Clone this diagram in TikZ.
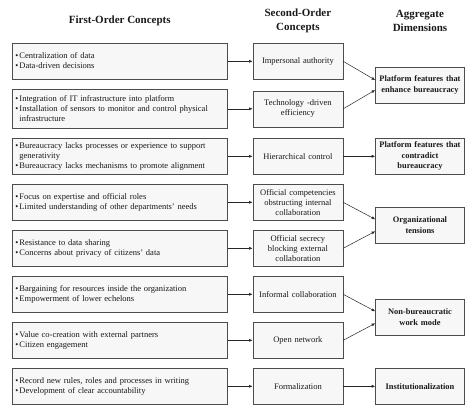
\documentclass[tikz,border=0pt]{standalone}
\usepackage{fontspec}
\setmainfont{Liberation Serif}
\usetikzlibrary{positioning,arrows.meta,calc}

\newcommand{\bul}{\textbullet\hspace{1.2pt}}
\newcommand{\ind}{\hphantom{\bul}}

\begin{document}
\begin{tikzpicture}[
    node distance=9.4pt and 25pt,
    every node/.style={font=\fontsize{8.5}{10}\selectfont, text=black!90},
    firstbox/.style={draw=black!70, line width=0.6pt, fill=black!3,
                  text width=209pt, align=left, inner xsep=3pt, inner ysep=2pt,
                  minimum height=36pt},
    secondbox/.style={draw=black!70, line width=0.6pt, fill=black!3,
                  text width=84pt, align=center, inner xsep=3pt, inner ysep=2pt,
                  minimum height=36pt},
    aggbox/.style={draw=black!70, line width=0.6pt, fill=black!3,
                  text width=86pt, align=center, inner xsep=1.5pt, inner ysep=2pt,
                  minimum height=36pt, font=\fontsize{8.4}{10.5}\selectfont\bfseries},
    head/.style={font=\fontsize{11}{14}\selectfont\bfseries, align=center},
    lift/.style={text depth=12pt},
    conn/.style={draw=black!85, line width=0.5pt, -{Latex[length=3.5pt,width=3pt]}}
  ]
    \useasboundingbox (0,0) rectangle (474pt,-410pt);

    % First-order concepts, top to bottom
    \node[firstbox, lift, anchor=north west] (f1) at (12pt,-43pt)
      {\bul Centralization of data\\ \bul Data-driven decisions};
    \node[firstbox, below=of f1, minimum height=39pt] (f2)
      {\bul Integration of IT infrastructure into platform\\
       \bul Installation of sensors to monitor and control physical\\
       \ind infrastructure};
    \node[firstbox, below=of f2] (f3)
      {\bul Bureaucracy lacks processes or experience to support\\
       \ind generativity\\
       \bul Bureaucracy lacks mechanisms to promote alignment};
    \node[firstbox, lift, below=of f3] (f4)
      {\bul Focus on expertise and official roles\\
       \bul Limited understanding of other departments' needs};
    \node[firstbox, lift, below=of f4] (f5)
      {\bul Resistance to data sharing\\
       \bul Concerns about privacy of citizens' data};
    \node[firstbox, lift, below=of f5] (f6)
      {\bul Bargaining for resources inside the organization\\
       \bul Empowerment of lower echelons};
    \node[firstbox, lift, below=of f6] (f7)
      {\bul Value co-creation with external partners\\
       \bul Citizen engagement};
    \node[firstbox, lift, below=of f7] (f8)
      {\bul Record new rules, roles and processes in writing\\
       \bul Development of clear accountability};

    % Second-order concepts, one per row
    \node[secondbox, right=of f1] (s1) {Impersonal authority};
    \node[secondbox, right=of f2] (s2) {Technology -driven\\efficiency};
    \node[secondbox, right=of f3] (s3) {Hierarchical control};
    \node[secondbox, right=of f4] (s4) {Official competencies\\obstructing internal\\collaboration};
    \node[secondbox, right=of f5] (s5) {Official secrecy\\blocking external\\collaboration};
    \node[secondbox, right=of f6] (s6) {Informal collaboration};
    \node[secondbox, right=of f7] (s7) {Open network};
    \node[secondbox, right=of f8] (s8) {Formalization};

    % Aggregate dimensions
    \coordinate (c1) at ($(s1.east)!0.5!(s2.east)$);
    \coordinate (c2) at ($(s4.east)!0.5!(s5.east)$);
    \coordinate (c3) at ($(s6.east)!0.5!(s7.east)$);
    \node[aggbox, right=32pt of c1] (a1) {Platform features that\\enhance bureaucracy};
    \node[aggbox, right=32pt of s3] (a2) {Platform features that\\contradict\\bureaucracy};
    \node[aggbox, right=32pt of c2] (a3) {Organizational\\tensions};
    \node[aggbox, right=32pt of c3] (a4) {Non-bureaucratic\\work mode};
    \node[aggbox, right=32pt of s8] (a5) {Institutionalization};

    % Column headings
    \node[head] (h2) at ($(s1.north)+(0,22.5pt)$) {Second-Order\\Concepts};
    \node[head] (h1) at (h2 -| f1) {First-Order Concepts};
    \node[head] (h3) at (h2 -| a1) {Aggregate\\Dimensions};

    % Connections
    \draw[conn] (f1) -- (s1);
    \draw[conn] (f2) -- (s2);
    \draw[conn] (f3) -- (s3);
    \draw[conn] (f4) -- (s4);
    \draw[conn] (f5) -- (s5);
    \draw[conn] (f6) -- (s6);
    \draw[conn] (f7) -- (s7);
    \draw[conn] (f8) -- (s8);
    \draw[conn] (s1.east) -- ([yshift=5pt]a1.west);
    \draw[conn] (s2.east) -- ([yshift=-5pt]a1.west);
    \draw[conn] (s3) -- (a2);
    \draw[conn] (s4.east) -- ([yshift=6pt]a3.west);
    \draw[conn] (s5.east) -- ([yshift=-6pt]a3.west);
    \draw[conn] (s6.east) -- ([yshift=6pt]a4.west);
    \draw[conn] (s7.east) -- ([yshift=-6pt]a4.west);
    \draw[conn] (s8) -- (a5);
  \end{tikzpicture}
\end{document}
